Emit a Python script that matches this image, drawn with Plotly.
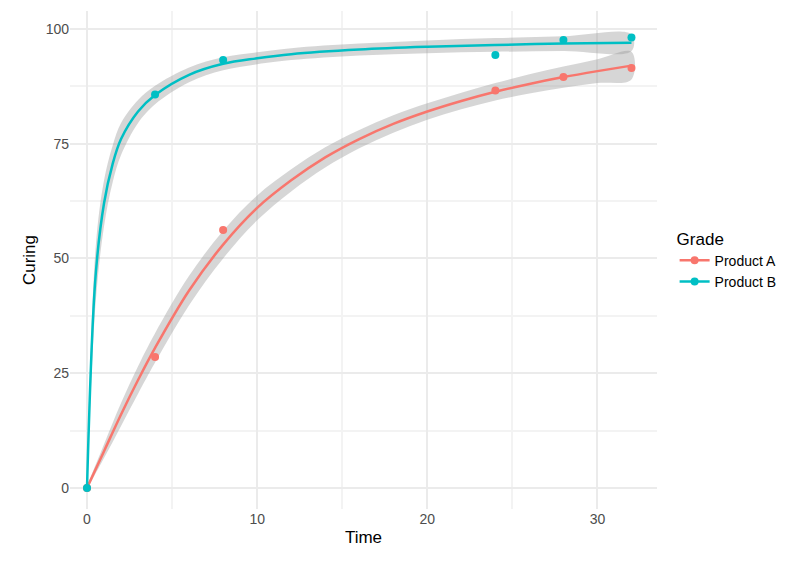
import plotly.graph_objects as go

# observed points
time_pts = [0, 4, 8, 24, 28, 32]
prod_a = [0, 28.5, 56.2, 86.6, 89.5, 91.5]
prod_b = [0, 85.7, 93.2, 94.3, 97.6, 98.1]

# fitted curves
fit_a_t = [0, 1, 2, 3, 4, 6, 8, 10, 12, 14, 16, 18, 20, 22, 24, 26, 28, 30, 32]
fit_a = [0, 8, 16, 23.5, 30.5, 43, 53, 61, 67, 72, 76, 79.3, 82, 84.3, 86.3, 88, 89.5, 90.8, 92]
fit_a_se = [0, 1.5, 2.5, 3, 3.2, 3.2, 3, 2.7, 2.4, 2.2, 2, 1.9, 1.8, 1.8, 1.9, 2.1, 2.3, 2.6, 3]

fit_b_t = [0, 0.5, 1, 1.5, 2, 3, 4, 6, 8, 10, 12, 16, 20, 24, 28, 32]
fit_b = [0, 46, 62, 70.5, 76, 82, 85.6, 90, 92.4, 93.6, 94.5, 95.5, 96.1, 96.5, 96.8, 97]
fit_b_se = [0, 6, 5, 4, 3.5, 2.5, 2, 1.6, 1.4, 1.3, 1.3, 1.3, 1.4, 1.5, 1.6, 1.8]

red = "#F8766D"
teal = "#00BFC4"

fig = go.Figure()

for t, y, se in [(fit_a_t, fit_a, fit_a_se), (fit_b_t, fit_b, fit_b_se)]:
    upper = [v + s for v, s in zip(y, se)]
    lower = [v - s for v, s in zip(y, se)]
    fig.add_trace(go.Scatter(
        x=t + t[::-1], y=upper + lower[::-1], fill="toself",
        fillcolor="rgba(153,153,153,0.4)", line=dict(width=0, shape="spline"),
        showlegend=False, hoverinfo="skip"))

for t, y, px, py, c in [
    (fit_a_t, fit_a, time_pts, prod_a, red),
    (fit_b_t, fit_b, time_pts, prod_b, teal),
]:
    fig.add_trace(go.Scatter(x=t, y=y, mode="lines", line=dict(color=c, width=2.5, shape="spline"),
                             showlegend=False))
    fig.add_trace(go.Scatter(x=px, y=py, mode="markers", marker=dict(color=c, size=8),
                             showlegend=False))

# legend entries
for name, c in [("Product A", red), ("Product B", teal)]:
    fig.add_trace(go.Scatter(x=[None], y=[None], mode="markers+lines", name=name,
                             marker=dict(color=c, size=8), line=dict(color=c, width=2.5)))

fig.update_layout(
    width=799, height=561, plot_bgcolor="white", paper_bgcolor="white",
    margin=dict(l=62, r=150, t=3, b=60),
    font=dict(family="Liberation Sans, Arial", size=14, color="#4d4d4d"),
    legend=dict(title=dict(text="Grade", font=dict(size=17, color="black")),
                x=1.03, y=0.5, yanchor="middle", font=dict(size=14, color="black")),
)
fig.update_xaxes(range=[-1, 33.5], tickvals=[0, 10, 20, 30], showgrid=True,
                 gridcolor="#ebebeb", gridwidth=1.5, zeroline=False,
                 minor=dict(tickvals=[5, 15, 25], showgrid=True, gridcolor="#f3f3f3"),
                 title=dict(text="Time", font=dict(size=17, color="black"), standoff=5))
fig.update_yaxes(range=[-4.6, 103.9], tickvals=[0, 25, 50, 75, 100], showgrid=True,
                 gridcolor="#ebebeb", gridwidth=1.5, zeroline=False,
                 minor=dict(tickvals=[12.5, 37.5, 62.5, 87.5], showgrid=True, gridcolor="#f3f3f3"),
                 title=dict(text="Curing", font=dict(size=17, color="black"), standoff=5))

fig.write_html("out.html")
